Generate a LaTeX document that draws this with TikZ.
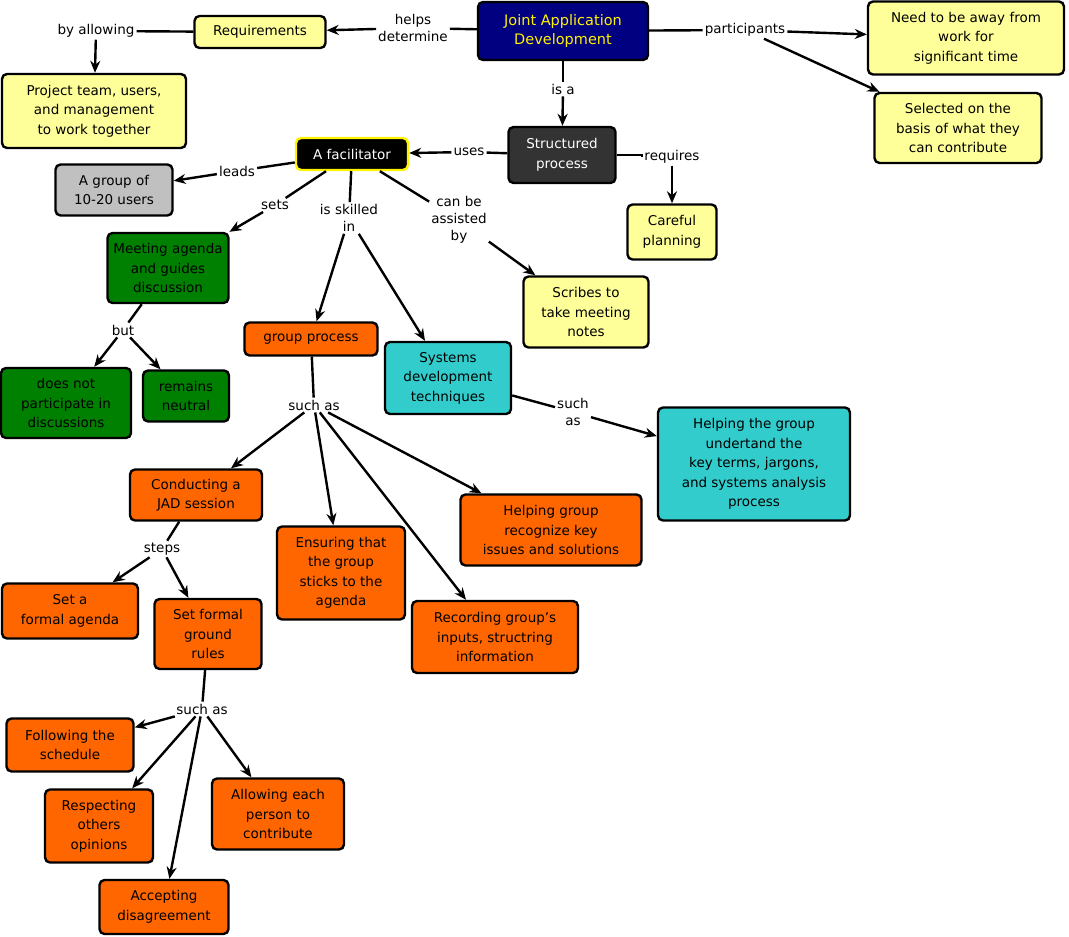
\documentclass[tikz,border=0pt]{standalone}
\usepackage{fontspec}
\setmainfont{DejaVu Sans}
\usetikzlibrary{arrows.meta}
\definecolor{ly}{RGB}{255,255,153}
\definecolor{nv}{RGB}{0,0,128}
\definecolor{dg}{RGB}{51,51,51}
\definecolor{gr}{RGB}{0,128,0}
\definecolor{lg}{RGB}{192,192,192}
\definecolor{org}{RGB}{255,102,0}
\definecolor{tl}{RGB}{51,204,204}
\tikzset{
 box/.style={draw=black,line width=2.4pt,rounded corners=5pt,align=center,inner sep=1pt,font=\fontsize{13.5}{19.5}\selectfont},
 Y/.style={box,fill=ly},
 N/.style={box,fill=nv,text=yellow},
 D/.style={box,fill=dg,text=white},
 K/.style={box,fill=black,text=white,draw=yellow},
 L/.style={box,fill=lg},
 G/.style={box,fill=gr},
 O/.style={box,fill=org},
 T/.style={box,fill=tl},
 lab/.style={fill=white,inner sep=2pt,align=center,font=\fontsize{13.5}{17}\selectfont},
 ln/.style={line width=2.4pt},
 ar/.style={line width=2.4pt,-{Stealth[length=12pt,width=10pt]}},
}
\newcommand{\nd}[7]{\node[#6,minimum width=#4pt,minimum height=#5pt] (#1) at (#2pt,-#3pt) {#7};}
\newcommand{\lb}[4]{\node[lab] (#1) at (#2pt,-#3pt) {#4};}
\begin{document}
\begin{tikzpicture}[x=1pt,y=1pt]
\useasboundingbox (0,0) rectangle (1069,-937);
% links drawn first
\lb{l1}{413}{28}{helps\\determine}
\lb{l2}{745}{30}{participants}
\lb{l3}{96}{31}{by allowing}
\lb{l4}{563}{89}{is a}
\lb{l5}{469}{152}{uses}
\lb{l6}{672}{157}{requires}
\lb{l7}{237}{171}{leads}
\lb{l8}{275}{205}{sets}
\lb{l9}{349}{218}{is skilled\\in}
\lb{l10}{459}{220}{can be\\assisted\\by}
\lb{l11}{123}{330}{but}
\lb{l12}{314}{405}{such as}
\lb{l13}{573}{412}{such\\as}
\lb{l14}{162}{549}{steps}
\lb{l15}{202}{709}{such as}
\nd{jad}{563}{31}{170}{58}{N}{\fontsize{14.5}{21}\selectfont Joint Application\\\fontsize{14.5}{21}\selectfont Development}
\nd{req}{260}{32}{131}{32}{Y}{Requirements}
\nd{need}{966}{38}{196}{73}{Y}{Need to be away from\\work for\\significant time}
\nd{sel}{958}{128}{167}{70}{Y}{Selected on the\\basis of what they\\can contribute}
\nd{proj}{94}{111}{184}{74}{Y}{Project team, users,\\and management\\to work together}
\nd{sp}{562}{155}{107}{56}{D}{Structured\\process}
\nd{fac}{352}{154}{112}{32}{K}{A facilitator}
\nd{grp}{114}{190}{117}{51}{L}{A group of\\10-20 users}
\nd{care}{672}{232}{89}{55}{Y}{Careful\\planning}
\nd{meet}{168}{268}{121}{70}{G}{Meeting agenda\\and guides\\discussion}
\nd{scr}{586}{312}{125}{71}{Y}{Scribes to\\take meeting\\notes}
\nd{gp}{311}{339}{133}{33}{O}{group process}
\nd{sdt}{448}{378}{126}{72}{T}{Systems\\development\\techniques}
\nd{dnp}{66}{403}{130}{70}{G}{does not\\participate in\\discussions}
\nd{rn}{186}{396}{86}{51}{G}{remains\\neutral}
\nd{hu}{754}{464}{192}{113}{T}{Helping the group\\undertand the\\key terms, jargons,\\and systems analysis\\process}
\nd{cj}{196}{495}{132}{51}{O}{Conducting a\\JAD session}
\nd{hr}{551}{530}{181}{71}{O}{Helping group\\recognize key\\issues and solutions}
\nd{ens}{341}{573}{128}{93}{O}{Ensuring that\\the group\\sticks to the\\agenda}
\nd{rec}{495}{637}{166}{72}{O}{Recording group's\\inputs, structring\\information}
\nd{sfa}{70}{611}{136}{55}{O}{Set a\\formal agenda}
\nd{sfg}{208}{634}{107}{70}{O}{Set formal\\ground\\rules}
\nd{fol}{70}{745}{127}{53}{O}{Following the\\schedule}
\nd{all}{278}{814}{132}{71}{O}{Allowing each\\person to\\contribute}
\nd{resp}{99}{826}{108}{73}{O}{Respecting\\others\\opinions}
\nd{acc}{164}{907}{129}{54}{O}{Accepting\\disagreement}
\begin{scope}[on background layer/.try]
\end{scope}
\draw[ln] (jad) -- (l1); \draw[ar] (l1) -- (req);
\draw[ln] (jad) -- (l2); \draw[ar] (l2) -- (need); \draw[ar] (l2) -- (sel);
\draw[ln] (req) -- (l3); \draw[ar] (l3) -- (proj);
\draw[ln] (jad) -- (l4); \draw[ar] (l4) -- (sp);
\draw[ln] (sp) -- (l5); \draw[ar] (l5) -- (fac);
\draw[ln] (sp.east) -| (l6.west); \draw[ar] (l6) -- (care);
\draw[ln] (fac) -- (l7); \draw[ar] (l7) -- (grp);
\draw[ln] (fac) -- (l8); \draw[ar] (l8) -- (meet);
\draw[ln] (fac) -- (l9); \draw[ar] (l9) -- (gp); \draw[ar] (l9) -- (sdt);
\draw[ln] (fac) -- (l10); \draw[ar] (l10) -- (scr);
\draw[ln] (meet) -- (l11); \draw[ar] (l11) -- (dnp); \draw[ar] (l11) -- (rn);
\draw[ln] (gp) -- (l12); \draw[ar] (l12) -- (cj); \draw[ar] (l12) -- (ens); \draw[ar] (l12) -- (hr); \draw[ar] (l12) -- (rec);
\draw[ln] (sdt) -- (l13); \draw[ar] (l13) -- (hu);
\draw[ln] (cj) -- (l14); \draw[ar] (l14) -- (sfa); \draw[ar] (l14) -- (sfg);
\draw[ln] (sfg) -- (l15); \draw[ar] (l15) -- (fol); \draw[ar] (l15) -- (resp); \draw[ar] (l15) -- (all); \draw[ar] (l15) -- (acc);
\end{tikzpicture}
\end{document}
